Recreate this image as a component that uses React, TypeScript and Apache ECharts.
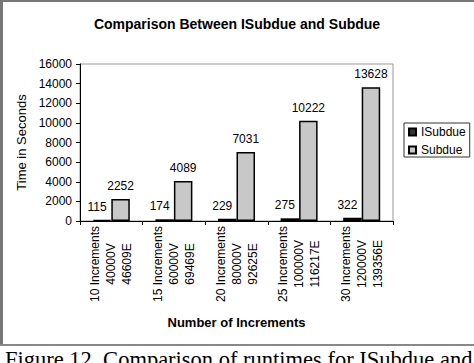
import React, { useEffect, useRef } from "react";
import * as echarts from "echarts";

const categories = [
  "10 Increments\n40000V\n46609E",
  "15 Increments\n60000V\n69469E",
  "20 Increments\n80000V\n92625E",
  "25 Increments\n100000V\n116217E",
  "30 Increments\n120000V\n139356E",
];
const isubdue = [115, 174, 229, 275, 322];
const subdue = [2252, 4089, 7031, 10222, 13628];
const yMin = 0;
const yMax = 16000;
const yStep = 2000;

const SANS = "'Liberation Sans', Arial, sans-serif";

export default function App() {
  const ref = useRef<HTMLDivElement>(null);
  useEffect(() => {
    if (!ref.current) return;
    const chart = echarts.init(ref.current, null, { renderer: "svg" });
    chart.setOption({
      animation: false,
      backgroundColor: "#ffffff",
      title: {
        text: "Comparison Between ISubdue and Subdue",
        left: "center",
        top: 12,
        textStyle: { fontFamily: SANS, fontSize: 14, fontWeight: "bold", color: "#000" },
      },
      legend: {
        orient: "vertical",
        left: 404,
        top: 123,
        padding: [3, 4, 1, 4],
        itemGap: 6,
        itemWidth: 7,
        itemHeight: 7,
        borderColor: "#333",
        borderWidth: 1,
        icon: "rect",
        textStyle: { fontFamily: SANS, fontSize: 12, color: "#000" },
        data: ["ISubdue", "Subdue"],
      },
      grid: {
        left: 80,
        top: 64,
        right: 81,
        bottom: 142,
        show: true,
        borderColor: "#999",
        borderWidth: 1,
        backgroundColor: "transparent",
      },
      xAxis: {
        type: "category",
        data: categories,
        name: "Number of Increments",
        nameLocation: "middle",
        nameGap: 95,
        nameTextStyle: { fontFamily: SANS, fontSize: 13, fontWeight: "bold", color: "#000" },
        axisLine: { lineStyle: { color: "#000", width: 1 } },
        axisTick: { show: true, length: 4, lineStyle: { color: "#000" } },
        axisLabel: {
          rotate: 90,
          align: "center",
          margin: 43,
          lineHeight: 16,
          fontFamily: SANS,
          fontSize: 12,
          color: "#000",
          interval: 0,
        },
      },
      yAxis: {
        type: "value",
        min: yMin,
        max: yMax,
        interval: yStep,
        name: "Time in Seconds",
        nameLocation: "middle",
        nameGap: 45,
        nameTextStyle: { fontFamily: SANS, fontSize: 13, color: "#000" },
        axisLine: { show: true, lineStyle: { color: "#000", width: 1 } },
        axisTick: { show: true, length: 4, lineStyle: { color: "#000" } },
        splitLine: { show: false },
        axisLabel: {
          margin: 8,
          fontFamily: SANS,
          fontSize: 12,
          color: "#000",
          formatter: (v: number) => String(v),
        },
      },
      series: [
        {
          name: "ISubdue",
          type: "bar",
          data: isubdue,
          barWidth: 18.5,
          barGap: "0%",
          itemStyle: { color: "#333333", borderColor: "#000", borderWidth: 1.5 },
          label: {
            show: true,
            position: "top",
            distance: 7,
            offset: [-5, 0],
            fontFamily: SANS,
            fontSize: 12,
            color: "#000",
          },
        },
        {
          name: "Subdue",
          type: "bar",
          data: subdue,
          barWidth: 18.5,
          barGap: "0%",
          itemStyle: { color: "#c8c8c8", borderColor: "#000", borderWidth: 1.5 },
          label: {
            show: true,
            position: "top",
            distance: 7,
            fontFamily: SANS,
            fontSize: 12,
            color: "#000",
          },
        },
      ],
      graphic: [
        { type: "rect", shape: { x: 0, y: 0, width: 3, height: 346 }, style: { fill: "#777" }, silent: true },
        { type: "rect", shape: { x: 0, y: 0, width: 474, height: 2 }, style: { fill: "#777" }, silent: true },
        { type: "rect", shape: { x: 0, y: 344, width: 474, height: 2 }, style: { fill: "#888" }, silent: true },
        {
          type: "text",
          x: 5,
          y: 348,
          style: {
            text: "Figure 12. Comparison of runtimes for ISubdue and",
            fontFamily: "'Liberation Serif', 'Times New Roman', serif",
            fontSize: 22.5,
            fill: "#000",
            verticalAlign: "top",
          },
          silent: true,
        },
      ],
    });
    return () => chart.dispose();
  }, []);
  return (
    <div
      ref={ref}
      style={{ position: "fixed", left: 0, top: 0, width: 474, height: 363, background: "#fff" }}
    />
  );
}
